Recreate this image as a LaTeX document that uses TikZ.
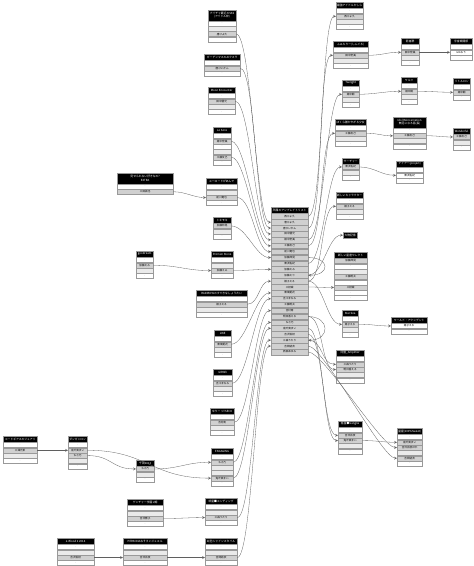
\documentclass[tikz,border=0pt]{standalone}
\usepackage{fontspec}
\setmainfont{Noto Sans CJK JP}
\usepackage{tikz}
\usetikzlibrary{arrows,positioning}
\definecolor{rowgray}{RGB}{208,208,208}
\definecolor{rowlight}{RGB}{234,234,234}
\definecolor{linegray}{RGB}{95,95,95}
\newcommand{\rectab}[6][thead]{%
  \node[#1, minimum width=#4pt, anchor=north west] (#2-0) at (#3) {#5};
  \foreach \kind/\txt [count=\i, remember=\i as \j (initially 0)] in {#6}
    {\node[\kind, minimum width=#4pt, below=0pt of #2-\j] (#2-\i) {\txt};}%
}

\begin{document}
\begin{tikzpicture}[x=1pt, y=-1pt,
    thead/.style={rectangle, draw=black!40, line width=0.3pt, fill=black, text=white, minimum height=6pt, inner sep=0pt, align=center, font=\fontsize{2.8}{3.3}\selectfont},
    thead2/.style={thead, minimum height=10.5pt},
    rw/.style={rectangle, draw=black!40, line width=0.3pt, fill=white, text=black!50, minimum height=5pt, inner sep=0pt, font=\fontsize{2.6}{3}\selectfont},
    rg/.style={rw, fill=rowgray, text=black},
    re/.style={rw, fill=rowlight},
    rn/.style={rw, text=black},
    rm/.style={rg, minimum height=5.6pt},
    arrow/.style={draw=linegray, line width=0.3pt, ->, >=stealth}]

    \useasboundingbox (0,0) rectangle (474,566);

    \rectab[thead2]{naicha}{207.7,10}{28.3}{ナイチャ最近のSSS\\(アイドル枠)}{rw/-, re/{}, rg/唐ひよ久, rw/-}
    \rectab{garden}{204,54}{36}{ガーデンマスのAIクスラ}{rw/-, rg/唐ひいかん, rw/-}
    \rectab{moon}{208,87}{27}{Moon Encounter}{rw/-, rg/田中優光, re/{}, rw/-}
    \rectab{lesens}{213,127}{18}{Le Sens}{rw/-, rg/姫中宏美, rw/-, re/{}, rg/工藤友己, rw/-}
    \rectab{euroad}{206,178}{31}{ユーロードがあんで}{rw/-, re/{}, rg/前川竜也, rw/-}
    \rectab{tokimoki}{213,217}{18}{トキモキ}{rg/加藤邦晃, re/{}, rw/-}
    \rectab{premier}{211,251}{22}{Premier Stone}{rw/-, re/{}, rg/加藤えみ, rw/-}
    \rectab{rainbow}{196,290}{51}{RAINBOWのすてきなしょうたい}{rw/-, rg/姫子える, re/{}, rw/-}
    \rectab{like}{214,330}{17}{LIKE}{rw/-, rg/東畑愛花, re/{}, rw/-}
    \rectab{girish}{213,369}{19}{GIRISh}{rw/-, rg/吉川まなみ, re/{}, rw/-}
    \rectab{yuri}{210,408}{24}{ゆりーっ!!SECO}{rw/-, rg/吉村南, re/{}, rw/-}
    \rectab{engaging}{211,448}{22}{ENGAGING}{rw/-, rg/ちさ乃, re/{}, re/{}, rg/鬼叶実まい, rw/-}
    \rectab{kizuna}{205,498}{32}{絆星■エンディング}{rw/-, re/{}, rg/三森うたり, rw/-}
    \rectab{niji}{205,538}{32}{虹色シャインスタイル}{rw/-, re/{}, rg/吉岡結衣, rw/-}

    \rectab{cast}{271,207}{37}{所属のアンプレイトリスト}{rm/西ひよ久, rm/唐ひよ久, rm/唐ひいかん, rm/田中優光, rm/姫中宏美, rm/工藤友己, rm/前川竜也, rm/加藤邦晃, rm/東浜佐紀, rm/加藤えみ, rm/加藤えり, rm/姫子える, rm/三枝城, rm/東畑愛花, rm/吉川まなみ, rm/工藤明夫, rm/吉村南, rm/明日香える, rm/ちさ乃, rm/鬼叶実まい, rm/吉沢百枝, rm/三森うたり, rm/吉岡結衣, rm/西田あゆみ}

    \rectab{saikyo}{336,2}{27}{最強アイドルかしら}{rw/-, rg/西ひよ久, re/{}, rw/-}
    \rectab{family}{333,41}{35}{ふぁみりー(しんぐる)}{rw/-, rg/田中宏美, re/{}, rw/-}
    \rectab{wakamono}{401,38}{18}{若者群}{rw/-, rg/田中宏美, re/{}, rw/-}
    \rectab{uchu}{450,38}{22}{宇宙戦闘部}{rw/-, rn/GIGちう, rw/-}
    \rectab{twilight}{342,80}{17}{Twilight}{rw/-, rg/姫中鋼, re/{}, rw/-}
    \rectab{waltz}{401,77}{16}{ワルツ}{rw/-, rg/姫中鋼, re/{}, rw/-}
    \rectab{little}{453,78}{17}{リトルロン}{rw/-, rg/姫中鋼, rw/-}
    \rectab{bokura}{335,119}{31}{ぼくら誰かやがる少女}{rw/-, rg/工藤友己, re/{}, rw/-}
    \rectab[thead2]{idol}{393,117}{33}{Idol Reincarnation\\無冠になる話(長)}{rw/-, rg/工藤友己, re/{}, rw/-}
    \rectab{wonderful}{453,128}{17}{Wonderful}{rg/工藤友己, re/{}, rw/-}
    \rectab{searcher}{342,158}{17}{サーチャー}{rg/東浜佐紀, re/{}, rw/-}
    \rectab{naia}{396,161}{27}{ナイアー(project)}{rw/-, rn/東浜佐紀, rw/-}
    \rectab{newchara}{336,192}{27}{新しいキャラクター}{rw/-, rg/姫子える, re/{}, rw/-}
    \node[thead, minimum width=14pt, anchor=north west] (omono-0) at (343,232) {大物記憶};
    \rectab{seiza}{334,252}{33}{新しい星座セレクト}{rg/加藤邦晃, rw/-, re/{}, rg/工藤明夫, rw/-, rg/三枝城, rw/-, rw/-}
    \rectab{starsea}{342,310}{16}{Star Sea}{rw/-, rg/姫子える, re/{}, rw/-}
    \rectab{world}{391,317}{36}{ワールド・アクシデント}{rn/姫子える, rw/-}
    \rectab{amplifier}{336,350}{28}{同盟\_Amplifier}{rw/-, rg/三森うたり, rg/明日香える, re/{}, rw/-}
    \rectab{ganglia}{338,421}{24}{極星●Ganglia}{rw/-, rg/吉沢百枝, rg/鬼叶実まい, re/{}, rw/-}
    \rectab{hoshiya}{397,428}{25}{星屋(100\%Sweet)}{rw/-, rg/鬼叶実まい, rg/吉沢百枝ほか, re/{}, rg/吉岡結衣, rw/-}

    \rectab[thead2]{extra}{117,173}{56}{見せられない好きなの?\\EXTRA}{rw/-, rg/三田誠也}
    \rectab{goodream}{136,251}{17}{gooDream}{rw/-, rg/加藤えみ, re/{}, rw/-}
    \rectab{geass}{3,436}{34}{コードギアスのジュアリ}{rw/-, rg/三澤光希, re/{}, rw/-}
    \rectab{dangan}{68,436}{19}{ダンガンロン}{rw/-, rg/鬼叶実まい, rg/ちさ乃, re/{}, rw/-}
    \rectab{senryo}{136,460}{18}{千両2012}{rg/ちさ乃, re/{}, rw/-}
    \rectab{gakuen}{127,499}{36}{ゲンチャー学園 2期}{rw/-, re/{}, rg/吉沢雅子, rw/-}
    \rectab{eblood}{57,538}{37}{e-Blood 2 2014}{rw/-, re/{}, rg/吉沢百枝, rw/-}
    \rectab{persona}{123,538}{44}{PERSONAおそろいジュエル}{rw/-, re/{}, rg/吉沢百枝, rw/-}

    \draw[arrow] (extra-2.east) .. controls +(12,0) and +(-12,0) .. (euroad-3.west);
    \draw[arrow] (goodream-2.east) .. controls +(25,0) and +(-25,0) .. (premier-3.west);
    \draw[arrow] (geass-2.east) .. controls +(10,0) and +(-10,0) .. (dangan-2.west);
    \draw[arrow] (dangan-2.east) .. controls +(60,0) and +(-60,0) .. (engaging-5.west);
    \draw[arrow] (dangan-3.east) .. controls +(25,0) and +(-25,0) .. (senryo-1.west);
    \draw[arrow] (senryo-1.east) .. controls +(25,0) and +(-25,0) .. (engaging-2.west);
    \draw[arrow] (gakuen-3.east) .. controls +(15,0) and +(-15,0) .. (kizuna-3.west);
    \draw[arrow] (eblood-3.east) .. controls +(12,0) and +(-12,0) .. (persona-3.west);
    \draw[arrow] (persona-3.east) .. controls +(15,0) and +(-15,0) .. (niji-3.west);

    \draw[arrow] (naicha-3.east) .. controls +(15,0) and +(-15,0) .. (cast-2.west);
    \draw[arrow] (garden-2.east) .. controls +(15,0) and +(-15,0) .. (cast-3.west);
    \draw[arrow] (moon-2.east) .. controls +(15,0) and +(-15,0) .. (cast-4.west);
    \draw[arrow] (lesens-2.east) .. controls +(15,0) and +(-15,0) .. (cast-5.west);
    \draw[arrow] (lesens-5.east) .. controls +(15,0) and +(-15,0) .. (cast-6.west);
    \draw[arrow] (euroad-3.east) .. controls +(15,0) and +(-15,0) .. (cast-7.west);
    \draw[arrow] (tokimoki-1.east) .. controls +(15,0) and +(-15,0) .. (cast-8.west);
    \draw[arrow] (premier-3.east) .. controls +(15,0) and +(-15,0) .. (cast-10.west);
    \draw[arrow] (rainbow-2.east) .. controls +(12,0) and +(-12,0) .. (cast-12.west);
    \draw[arrow] (like-2.east) .. controls +(15,0) and +(-15,0) .. (cast-14.west);
    \draw[arrow] (girish-2.east) .. controls +(15,0) and +(-15,0) .. (cast-15.west);
    \draw[arrow] (yuri-2.east) .. controls +(15,0) and +(-15,0) .. (cast-17.west);
    \draw[arrow] (engaging-2.east) .. controls +(15,0) and +(-15,0) .. (cast-19.west);
    \draw[arrow] (engaging-5.east) .. controls +(15,0) and +(-15,0) .. (cast-20.west);
    \draw[arrow] (kizuna-3.east) .. controls +(15,0) and +(-15,0) .. (cast-22.west);
    \draw[arrow] (niji-3.east) .. controls +(15,0) and +(-15,0) .. (cast-23.west);

    \draw[arrow] (cast-1.east) .. controls +(15,0) and +(-15,0) .. (saikyo-2.west);
    \draw[arrow] (cast-3.east) .. controls +(15,0) and +(-15,0) .. (family-2.west);
    \draw[arrow] (cast-5.east) .. controls +(15,0) and +(-15,0) .. (twilight-2.west);
    \draw[arrow] (cast-6.east) .. controls +(15,0) and +(-15,0) .. (bokura-2.west);
    \draw[arrow] (cast-9.east) .. controls +(15,0) and +(-15,0) .. (searcher-1.west);
    \draw[arrow] (cast-12.east) .. controls +(15,0) and +(-15,0) .. (newchara-2.west);
    \draw[arrow] (cast-11.east) .. controls +(15,0) and +(-15,0) .. (omono-0.west);
    \draw[arrow] (cast-13.east) .. controls +(15,0) and +(-15,0) .. (seiza-6.west);
    \draw[arrow] (cast-12.east) .. controls +(15,0) and +(-15,0) .. (starsea-2.west);
    \draw[arrow] (cast-18.east) .. controls +(15,0) and +(-15,0) .. (amplifier-3.west);
    \draw[arrow] (cast-22.east) .. controls +(15,0) and +(-15,0) .. (amplifier-2.west);
    \draw[arrow] (cast-21.east) .. controls +(15,0) and +(-15,0) .. (ganglia-2.west);
    \draw[arrow] (cast-20.east) .. controls +(15,0) and +(-15,0) .. (ganglia-3.west);
    \draw[arrow] (cast-24.east) .. controls +(15,0) and +(-15,0) .. (hoshiya-3.west);
    \draw[arrow] (cast-23.east) .. controls +(15,0) and +(-15,0) .. (hoshiya-5.west);
    \draw[arrow] (cast-8.east) .. controls +(22,0) and +(22,0) .. (cast-11.east);
    \draw[arrow] (cast-18.east) .. controls +(22,0) and +(22,0) .. (cast-22.east);

    \draw[arrow] (family-2.east) .. controls +(15,0) and +(-15,0) .. (wakamono-2.west);
    \draw[arrow] (wakamono-2.east) .. controls +(15,0) and +(-15,0) .. (uchu-2.west);
    \draw[arrow] (twilight-2.east) .. controls +(15,0) and +(-15,0) .. (waltz-2.west);
    \draw[arrow] (waltz-2.east) .. controls +(15,0) and +(-15,0) .. (little-2.west);
    \draw[arrow] (bokura-2.east) .. controls +(12,0) and +(-12,0) .. (idol-2.west);
    \draw[arrow] (idol-2.east) .. controls +(12,0) and +(-12,0) .. (wonderful-1.west);
    \draw[arrow] (searcher-1.east) .. controls +(15,0) and +(-15,0) .. (naia-2.west);
    \draw[arrow] (starsea-2.east) .. controls +(15,0) and +(-15,0) .. (world-1.west);
    \draw[arrow] (ganglia-3.east) .. controls +(15,0) and +(-15,0) .. (hoshiya-2.west);
\end{tikzpicture}
\end{document}
